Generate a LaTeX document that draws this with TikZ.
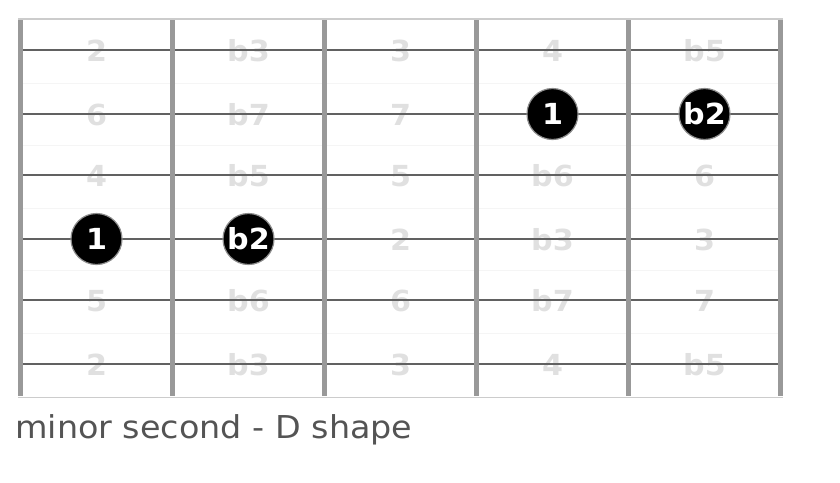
\documentclass[tikz,border=0pt]{standalone}
\usepackage{fontspec}
\setmainfont{DejaVu Sans}
\newfontfamily\capfont[FakeStretch=1.06]{DejaVu Sans}
\newfontfamily\lblfont[FakeStretch=1.04]{DejaVu Sans}
\begin{document}
\begin{tikzpicture}[x=1pt,y=-1pt,
  fretline/.style={line width=4.5pt, draw=black!40},
  stringline/.style={line width=1.6pt, draw=black!62},
  cellline/.style={line width=0.8pt, draw=black!4},
  borderline/.style={line width=1.6pt, draw=black!20},
  lbl/.style={text=black!12, font=\lblfont\bfseries\fontsize{29}{29}\selectfont, inner sep=0pt},
  dot/.style={circle, fill=black, draw=black!45, line width=1.2pt, minimum size=51pt, inner sep=0pt,
    text=white, font=\lblfont\bfseries\fontsize{29}{29}\selectfont},
  caption/.style={text=black!67, font=\capfont\fontsize{31.5}{31.5}\selectfont, inner sep=0pt, anchor=base west}]
\useasboundingbox (0,0) rectangle (840,482);
% faint cell borders
\foreach \y [count=\i] in {83,145,208,270,333}
  \draw[cellline] (20,\y) -- (781,\y);
% interval labels
\foreach \r/\y/\labs in {1/50/{2,b3,3,4,b5},2/114/{6,b7,7,,},3/175/{4,b5,5,b6,6},4/239/{,,2,b3,3},5/300/{5,b6,6,b7,7},6/364/{2,b3,3,4,b5}}{
  \foreach \t [count=\c] in \labs {
    \node[lbl] (l\r\c) at ({96.5+152*(\c-1)},\y+1) {\t};
  }
}
% strings
\foreach \y [count=\s] in {50,114,175,239,300,364}{
  \coordinate (sa\s) at (20,\y);
  \coordinate (sb\s) at (781,\y);
  \draw[stringline] (sa\s) -- (sb\s);
}
% frets
\foreach \x [count=\f] in {20.5,172.5,324.5,476.5,628.5,780.5}{
  \coordinate (fa\f) at (\x,20);
  \coordinate (fb\f) at (\x,396);
  \draw[fretline] (fa\f) -- (fb\f);
}
% top and bottom border
\coordinate (tl) at (18,19); \coordinate (tr) at (783,19);
\coordinate (bl) at (18,397.5); \coordinate (br) at (783,397.5);
\draw[borderline] (tl) -- (tr);
\draw[borderline] (bl) -- (br);
% dots
\node[dot] (d1) at (96.5,239) {1};
\node[dot] (d2) at (248.5,239) {b2};
\node[dot] (d3) at (552.5,114) {1};
\node[dot] (d4) at (704.5,114) {b2};
% caption
\node[caption] (cap) at (15,438) {minor second - D shape};
\end{tikzpicture}
\end{document}
